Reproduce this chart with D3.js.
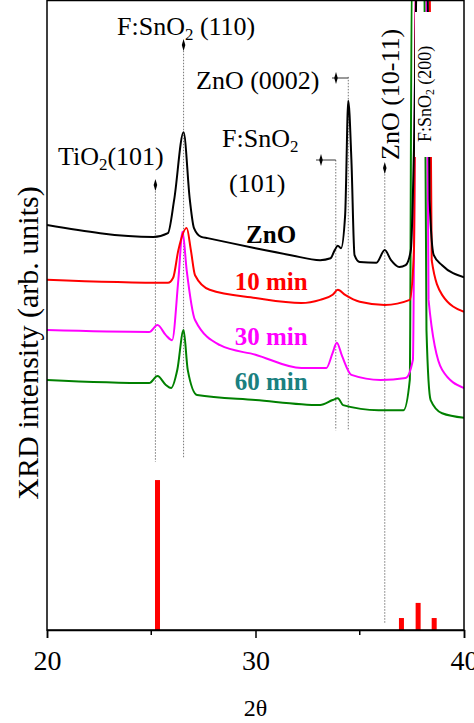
<!DOCTYPE html>
<html><head><meta charset="utf-8">
<script src="https://cdn.jsdelivr.net/npm/d3@7"></script>
<style>body{margin:0;background:#fff}svg{display:block}text{font-family:"Liberation Serif","Times New Roman",serif}</style>
</head><body>
<script>
// 2-theta / intensity (intensity in arbitrary units, 0..100)
var znoX   = [20,25.1,25.8,26.1,26.55,26.85,27.05,27.4,27.7,30,31.7,33.1,33.6,33.8,33.95,34.1,34.3,34.45,34.6,34.75,35,35.8,36.2,36.5,36.9,37.2,37.45,37.6,37.75,38.25,38.35,38.55,38.95,40];
var znoY   = [64.3,62.4,63,68.3,79,68.3,63.8,62.4,62.2,60.6,59.5,58.7,59,60.3,61,60.6,65.9,84,74.6,59.5,58.4,58.3,60.3,58.7,57.6,57.9,60.3,76.2,105,105,68.3,59.5,57.9,56];
var m10X   = [20,25.8,26.05,26.3,26.7,26.9,27.1,27.8,30,32.2,33.1,33.7,33.95,34.3,35,36.2,37.4,37.6,37.7,38.35,38.45,38.95,40];
var m10Y   = [55.6,55.1,55.9,60.3,63.8,60.3,56.3,54,52.7,51.9,52.4,53.2,54,53.2,52.1,51.6,52.4,60.3,105,105,58.7,53.2,50.5];
var m30X   = [20,24.9,25.3,25.7,26.0,26.3,26.5,26.7,27.1,28.3,30,32.2,33.4,33.7,33.9,34.15,34.6,36.0,37.2,37.55,37.7,38.2,38.3,38.95,40];
var m30Y   = [47.6,47.3,48.4,46.8,46,55.6,63.2,57.1,49.2,45.2,43.7,41.6,41.6,44,45.6,43.5,40.5,39.7,40,42.9,105,105,52.4,41.3,38.4];
var m60X   = [20,24.9,25.3,25.7,25.95,26.25,26.55,26.75,27.2,30,33.1,33.7,33.95,34.2,35.9,37.1,37.4,37.5,38.1,38.2,38.4,38.95,40];
var m60Y   = [39.7,39.2,40.3,38.9,38.4,41.3,47.6,41.3,37.3,36.5,35.7,36.5,36.8,35.7,34.9,34.9,39.7,105,105,47.6,36.5,34.4,33.7];
var seriesNames  = ["ZnO","10 min","30 min","60 min"];
var seriesColors = ["#000000","#ff0000","#ff00ff","#008000"];
var labelColors  = ["#000000","#ff0000","#ff00ff","#1a8080"];
var labelAt      = [[29.55,61.4],[29.0,53.9],[29.0,45.2],[29.0,38.1]];
// reference pattern sticks
var refX = [25.3,37.0,37.8,38.57];
var refY = [23.8,1.9,4.3,1.9];
var guideX   = [25.2,26.55,33.85,34.45,36.2];
var guideTop = [70.6,92.9,74.6,87.8,73.3];
var guideBot = [26.7,27.3,31.7,31.7,1.1];
var xTicks = [20,30,40], xMinor = [25,35];

var W = 474, H = 723, m = {l:47, r:10, t:0, b:93};
var svg = d3.select("body").append("svg").attr("width", W).attr("height", H);
var x = d3.scaleLinear().domain([20,40]).range([m.l, W - m.r]);
var y = d3.scaleLinear().domain([0,100]).range([H - m.b, m.t]);

svg.append("clipPath").attr("id","clip").append("rect")
  .attr("x", m.l).attr("y", 0).attr("width", x(40) - m.l).attr("height", y(0));

// dotted guides
guideX.forEach(function(g, i) {
  svg.append("line").attr("x1", x(g)).attr("x2", x(g))
    .attr("y1", y(guideTop[i])).attr("y2", y(guideBot[i]))
    .attr("stroke", "#555").attr("stroke-width", 0.8).attr("stroke-dasharray", "1.5,1.5");
});

var line = d3.line().x(function(d){ return x(d[0]); }).y(function(d){ return y(d[1]); }).curve(d3.curveMonotoneX);
var data = [[znoX,znoY],[m10X,m10Y],[m30X,m30Y],[m60X,m60Y]];
var g = svg.append("g").attr("clip-path","url(#clip)");
data.slice().reverse().forEach(function(s, k) {
  var i = data.length - 1 - k;
  g.append("path").datum(d3.zip(s[0], s[1])).attr("d", line)
    .attr("fill","none").attr("stroke", seriesColors[i]).attr("stroke-width", 2);
});

g.selectAll(".ref").data(d3.zip(refX, refY)).enter().append("rect")
  .attr("x", function(d){ return x(d[0]) - 2.5; }).attr("width", 5)
  .attr("y", function(d){ return y(d[1]); })
  .attr("height", function(d){ return y(0) - y(d[1]); })
  .attr("fill", "#ff0000");

seriesNames.forEach(function(n, i) {
  svg.append("text").attr("x", x(labelAt[i][0])).attr("y", y(labelAt[i][1]))
    .attr("font-size", 25).attr("font-weight","bold").attr("fill", labelColors[i]).text(n);
});

// annotations
function diamond(px, py) {
  svg.append("path").attr("d", d3.symbol(d3.symbolDiamond, 22)())
    .attr("transform","translate(" + px + "," + py + ") scale(0.7,1.4)").attr("fill","#000");
}
function sub(t, parts, size) {
  parts.forEach(function(p) {
    t.append("tspan").attr("baseline-shift", p[1] ? "-28%" : null)
      .attr("font-size", p[1] ? size * 0.65 : size).text(p[0]);
  });
}
var fs = 26;
sub(svg.append("text").attr("x", 58).attr("y", 165), [["TiO",0],["2",1],["(101)",0]], fs);
diamond(x(25.2), 185);
sub(svg.append("text").attr("x", 117).attr("y", 35), [["F:SnO",0],["2",1],[" (110)",0]], fs);
diamond(x(26.55), 45);
svg.append("text").attr("x", 196).attr("y", 89).attr("font-size", fs).text("ZnO (0002)");
svg.append("line").attr("x1", 332).attr("x2", x(34.45)).attr("y1", 78).attr("y2", 78).attr("stroke","#000").attr("stroke-width",0.8);
diamond(336, 78);
sub(svg.append("text").attr("x", 222).attr("y", 147), [["F:SnO",0],["2",1]], fs);
svg.append("text").attr("x", 229).attr("y", 192).attr("font-size", fs).text("(101)");
svg.append("line").attr("x1", 316).attr("x2", x(33.85)).attr("y1", 160).attr("y2", 160).attr("stroke","#000").attr("stroke-width",0.8);
diamond(321, 160);
svg.append("text").attr("transform","translate(399,160) rotate(-90)").attr("font-size", fs).text("ZnO (10-11)");
diamond(x(36.2), 168);
svg.append("rect").attr("x", 415).attr("y", 12).attr("width", 17).attr("height", 145).attr("fill","#fff");
sub(svg.append("text").attr("transform","translate(431,142) rotate(-90)"), [["F:SnO",0],["2",1],[" (200)",0]], 18);

// frame and axis
svg.append("rect").attr("x", m.l).attr("y", 0.5).attr("width", x(40) - m.l).attr("height", y(0) - 0.5)
  .attr("fill","none").attr("stroke","#000").attr("stroke-width",1.5);
var ax = svg.append("g").attr("transform","translate(0," + y(0) + ")")
  .call(d3.axisBottom(x).tickValues(xTicks).tickSize(8).tickPadding(12).tickFormat(d3.format("d")));
ax.select(".domain").attr("stroke-width",1.5);
ax.selectAll(".tick line").attr("stroke-width",1.5);
ax.selectAll("text").attr("font-size", 28).attr("font-family", '"Liberation Serif",serif');
svg.append("g").selectAll("line").data(xMinor).enter().append("line")
  .attr("x1", x).attr("x2", x).attr("y1", y(0)).attr("y2", y(0) + 5).attr("stroke","#000").attr("stroke-width",1.5);
svg.append("text").attr("x", x(30)).attr("y", 716).attr("text-anchor","middle").attr("font-size", 24).text("2θ");
svg.append("text").attr("transform","translate(38,343) rotate(-90)").attr("text-anchor","middle")
  .attr("font-size", 30).text("XRD intensity (arb. units)");
</script>
</body></html>
